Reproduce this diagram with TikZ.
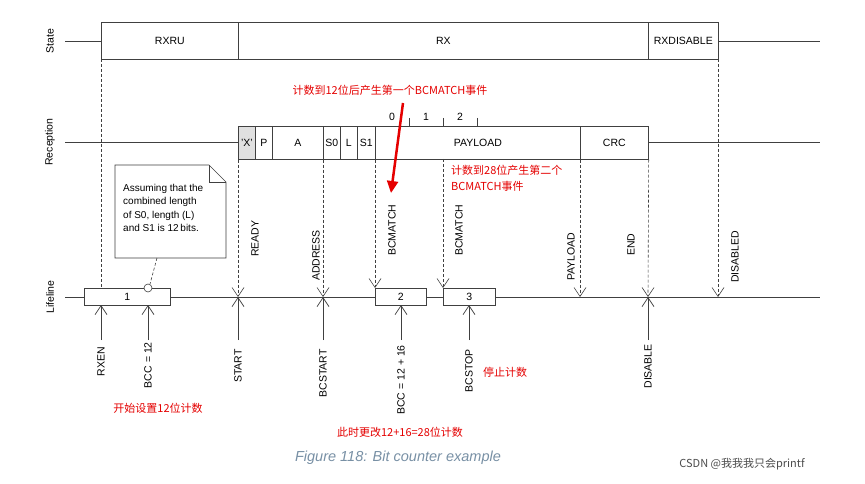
\documentclass[tikz,border=0pt]{standalone}
\usepackage{fontspec}
\setmainfont{Liberation Sans}
\newfontfamily\cjk{Noto Sans CJK SC}
\usetikzlibrary{arrows.meta}
\begin{document}
\begin{tikzpicture}[x=1pt,y=-1pt,font=\fontsize{10.5}{12}\selectfont,
  ln/.style={draw=black!75,line width=0.7pt},
  dsh/.style={draw=black!75,line width=0.6pt,dash pattern=on 3pt off 2pt},
  arr/.style={-{Straight Barb[length=9pt,width=12pt]},draw=black!75,line width=0.7pt},
  darr/.style={-{Straight Barb[length=9pt,width=12pt]},draw=black!75,line width=0.6pt,dash pattern=on 3pt off 2pt},
  fld/.style={draw=black!75,line width=0.7pt,minimum height=33pt,inner sep=0pt,anchor=north west},
  up/.style={rotate=90,anchor=west,inner sep=1pt},
  dn/.style={rotate=90,anchor=east,inner sep=1pt},
  red/.style={text=red!90!black,font=\cjk\fontsize{11}{12}\selectfont},
  side/.style={rotate=90,font=\fontsize{10.5}{12}\selectfont}]
\useasboundingbox (0,0) rectangle (865,484);
\fill[white] (0,0) rectangle (865,484);
% side labels
\node[side] (ls) at (50,41) {State};
\node[side] (lr) at (50,142) {Reception};
\node[side] (ll) at (50,297) {Lifeline};
% state row
\draw[ln] (65,41) -- (101,41) (718,41) -- (820,41);
\node[fld,minimum width=137pt,minimum height=37pt] (rxru) at (101,22) {RXRU};
\node[fld,minimum width=410pt,minimum height=37pt] (rx) at (238,22) {RX};
\node[fld,minimum width=70pt,minimum height=37pt] (rxd) at (648,22) {RXDISABLE};
% reception row
\draw[ln] (65,142) -- (238,142) (648,142) -- (820,142);
\node[fld,minimum width=17pt,fill=black!12] (fx) at (238,126) {'X'};
\node[fld,minimum width=17pt] (fp) at (255,126) {P};
\node[fld,minimum width=51pt] (fa) at (272,126) {A};
\node[fld,minimum width=17pt] (fs0) at (323,126) {S0};
\node[fld,minimum width=17pt] (fl) at (340,126) {L};
\node[fld,minimum width=18pt] (fs1) at (357,126) {S1};
\node[fld,minimum width=205pt] (fpl) at (375,126) {PAYLOAD};
\node[fld,minimum width=68pt] (fcrc) at (580,126) {CRC};
\draw[ln] (409,118) -- (409,126) (443,118) -- (443,126) (477,118) -- (477,126);
\node (b0) at (392,117) {0};
\node (b1) at (426,117) {1};
\node (b2) at (460,117) {2};
% lifeline
\draw[ln] (65,297) -- (820,297);
\node[fld,minimum width=86pt,minimum height=17pt,fill=white] (l1) at (84,288) {1};
\node[fld,minimum width=51pt,minimum height=17pt,fill=white] (l2) at (375,288) {2};
\node[fld,minimum width=52pt,minimum height=17pt,fill=white] (l3) at (443,288) {3};
% dashed verticals
\coordinate (rxruB) at (101,59);
\coordinate (l1t) at (101,288);
\draw[dsh] (rxruB) -- (l1t);
\coordinate (rxdB) at (718,59);
\coordinate (dis) at (718,297);
\draw[darr] (rxdB) -- (dis);
\coordinate (ready) at (238,297);
\draw[darr] (fx.south west) -- (ready);
\coordinate (addr) at (323,297);
\draw[darr] (fs0.south west) -- (addr);
\draw[darr] (fpl.south west) -- (l2.north west);
\draw[darr] (443,159) -- (l3.north west);
\coordinate (pay) at (580,297);
\draw[darr] (fcrc.south west) -- (pay);
\coordinate (endp) at (648,297);
\draw[darr] (fcrc.south east) -- (endp);
\node[up] (tready) at (255,258) {READY};
\node[up] (taddr) at (316,282) {ADDRESS};
\node[up] (tbm1) at (392,257) {BCMATCH};
\node[up] (tbm2) at (459,257) {BCMATCH};
\node[up] (tpay) at (571,282) {PAYLOAD};
\node[up] (tend) at (631,257) {END};
\node[up] (tdis) at (735,284) {DISABLED};
% arrows from below
\coordinate (e1) at (101,340); \draw[arr] (e1) -- (101,305);
\coordinate (e2) at (148,340); \draw[arr] (e2) -- (148,305);
\coordinate (e3) at (238,340); \draw[arr] (e3) -- (ready);
\coordinate (e4) at (323,340); \draw[arr] (e4) -- (addr);
\coordinate (e5) at (401,340); \draw[arr] (e5) -- (401,305);
\coordinate (e6) at (469,340); \draw[arr] (e6) -- (469,305);
\coordinate (e7) at (648,340); \draw[arr] (e7) -- (endp);
\node[dn] (trxen) at (101,346) {RXEN};
\node[dn] (tbcc) at (148,341) {BCC = 12};
\node[dn] (tstart) at (238,348) {START};
\node[dn] (tbcs) at (323,348) {BCSTART};
\node[dn] (tbcc2) at (401,344) {BCC = 12 + 16};
\node[dn] (tbcstop) at (469,348) {BCSTOP};
\node[dn] (tdisable) at (648,343) {DISABLE};
% note
\draw[ln,line width=0.6pt,fill=white] (115,165) -- (209,165) -- (226,182) -- (226,258) -- (115,258) -- cycle;
\draw[ln,line width=0.6pt] (209,165) -- (209,182) -- (226,182);
\node[align=left,anchor=north west,inner sep=0pt,font=\fontsize{10}{13.5}\selectfont] (note) at (123,184) {Assuming that the\\combined length\\of S0, length (L)\\and S1 is 12\,bits.};
\draw[dsh] (157,258) -- (150,284);
\draw[ln,line width=0.6pt,fill=white] (148,288) circle (4);
% red annotations
\node[red] (r1) at (390,90) {计数到12位后产生第一个BCMATCH事件};
\draw[red!90!black,line width=2.5pt,-{Triangle[length=12pt,width=11pt]}] (403,103) -- (391,193);
\node[red,align=left,anchor=north west,inner sep=0pt,font=\cjk\fontsize{11}{16}\selectfont] (r2) at (451,165) {计数到28位产生第二个\\BCMATCH事件};
\node[red] (r3) at (158,408) {开始设置12位计数};
\node[red] (r4) at (400,432) {此时更改12+16=28位计数};
\node[red] (r5) at (505,372) {停止计数};
% caption
\node[text={rgb,255:red,120;green,144;blue,165},font=\itshape\fontsize{14.5}{16}\selectfont] (cap) at (398,458) {Figure 118: Bit counter example};
\node[text=black!70,font=\cjk\fontsize{11}{12}\selectfont] (csdn) at (742,464) {CSDN @我我我只会printf};
\end{tikzpicture}
\end{document}
